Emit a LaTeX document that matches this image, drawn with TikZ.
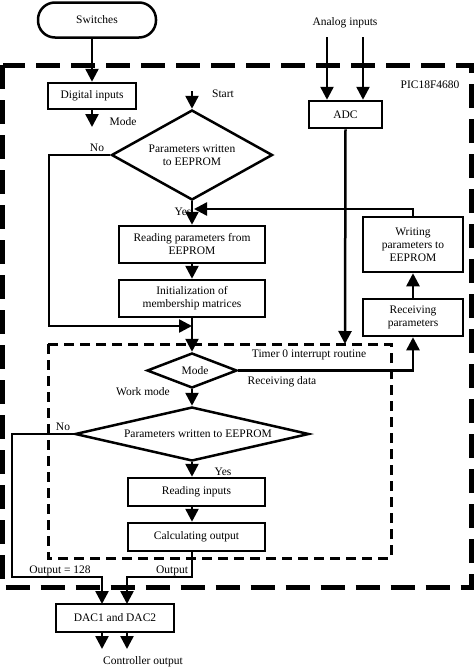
\documentclass[tikz,border=0pt]{standalone}
\usepackage{fontspec}
\setmainfont{Liberation Serif}
\usetikzlibrary{arrows.meta,shapes.geometric}
\begin{document}
\begin{tikzpicture}[x=1pt,y=-1pt,
  font=\fontsize{11.5}{13}\selectfont,
  ln/.style={line width=2.5pt},
  arr/.style={ln,-{Triangle[length=13pt,width=13pt]}},
  box/.style={draw,ln,rectangle,inner sep=0pt,align=center},
  dia/.style={draw,ln,diamond,inner sep=0pt},
  lbl/.style={inner sep=0pt,align=center}]
\useasboundingbox (0,0) rectangle (474,667);
% frames
\draw[line width=5pt,dash pattern=on 24pt off 11pt] (2.5,65) rectangle (471.5,587);
\draw[line width=3pt,dash pattern=on 10pt off 6pt] (48,344) rectangle (391,558);
% nodes
\node[box,rounded corners=17pt,minimum width=118pt,minimum height=35pt] (sw) at (97,20) {Switches};
\node[box,minimum width=88pt,minimum height=26pt] (dig) at (92,96) {Digital inputs};
\node[dia,minimum width=161pt,minimum height=90pt] (d1) at (192,155) {};
\node[lbl] (d1t) at (192,155) {Parameters written\\to EEPROM};
\node[box,minimum width=146pt,minimum height=37pt] (rp) at (192,244.5) {Reading parameters from\\EEPROM};
\node[box,minimum width=146pt,minimum height=37pt] (init) at (192,298.5) {Initialization of\\membership matrices};
\node[dia,minimum width=90pt,minimum height=35pt] (mode) at (192,370.5) {};
\node[lbl] (modet) at (195,371) {Mode};
\node[dia,minimum width=234pt,minimum height=54pt] (d2) at (192,434) {};
\node[lbl] (d2t) at (198,434) {Parameters written to EEPROM};
\node[box,minimum width=137pt,minimum height=28pt] (ri) at (196.5,492) {Reading inputs};
\node[box,minimum width=137pt,minimum height=28pt] (calc) at (196.5,537) {Calculating output};
\node[box,minimum width=118pt,minimum height=28pt] (dac) at (115,618) {DAC1 and DAC2};
\node[box,minimum width=73pt,minimum height=27pt] (adc) at (345.5,114.5) {ADC};
\node[box,minimum width=100pt,minimum height=37pt] (recv) at (413,317.5) {Receiving\\parameters};
\node[box,minimum width=100pt,minimum height=55pt] (wr) at (413,244.5) {Writing\\parameters to\\EEPROM};
% labels
\node[lbl] (tana) at (345,23) {Analog inputs};
\node[lbl] (tpic) at (430,85) {PIC18F4680};
\node[lbl] (tstart) at (223,94) {Start};
\node[lbl] (tmode) at (123,122) {Mode};
\node[lbl] (tno1) at (97,148) {No};
\node[lbl] (tyes1) at (183,212) {Yes};
\node[lbl] (ttimer) at (309,355) {Timer 0 interrupt routine};
\node[lbl] (trecv) at (282,382) {Receiving data};
\node[lbl] (twork) at (143,392) {Work mode};
\node[lbl] (tno2) at (63,427) {No};
\node[lbl] (tyes2) at (223,472) {Yes};
\node[lbl] (to128) at (60,571) {Output = 128};
\node[lbl] (tout) at (172,571) {Output};
\node[lbl] (tctl) at (143,662) {Controller output};
% coordinates
\coordinate (modein) at (92,127);
\coordinate (start) at (192,91);
\coordinate (no1c) at (49,155);
\coordinate (nojoin) at (192,326);
\coordinate (yesjoin) at (194,209);
\coordinate (ain1) at (327,37);
\coordinate (ain2) at (363,37);
\coordinate (adcend) at (345,344);
\coordinate (no2a) at (12,577);
\coordinate (dacin1) at (102,604);
\coordinate (calcout) at (192,551);
\coordinate (cj) at (127,577);
\coordinate (dacin2) at (127,604);
\coordinate (dout1) at (102,649);
\coordinate (dout2) at (127,649);
% connectors
\draw[arr] (dig.north |- sw.south) -- (dig.north);
\draw[arr] (dig.south) -- (modein);
\draw[arr] (start) -- (d1.north);
\draw[arr] (d1.west) -- (no1c) |- (nojoin);
\draw[arr] (d1.south) -- (rp.north);
\draw[arr] (rp.south) -- (init.north);
\draw[arr] (init.south) -- (mode.north);
\draw[arr] (wr.north) |- (yesjoin);
\draw[arr] (ain1) -- (ain1 |- adc.north);
\draw[arr] (ain2) -- (ain2 |- adc.north);
\draw[arr] (adc.south) -- (adcend);
\draw[arr] (mode.east) -| (recv.south);
\draw[arr] (recv.north) -- (wr.south);
\draw[arr] (mode.south) -- (d2.north);
\draw[arr] (d2.west) -| (no2a) -| (dacin1);
\draw[arr] (d2.south) -- (d2.south |- ri.north);
\draw[arr] (calcout |- ri.south) -- (calcout |- calc.north);
\draw[arr] (calcout) |- (cj) -- (dacin2);
\draw[arr] (dacin1 |- dac.south) -- (dout1);
\draw[arr] (dacin2 |- dac.south) -- (dout2);
\end{tikzpicture}
\end{document}
